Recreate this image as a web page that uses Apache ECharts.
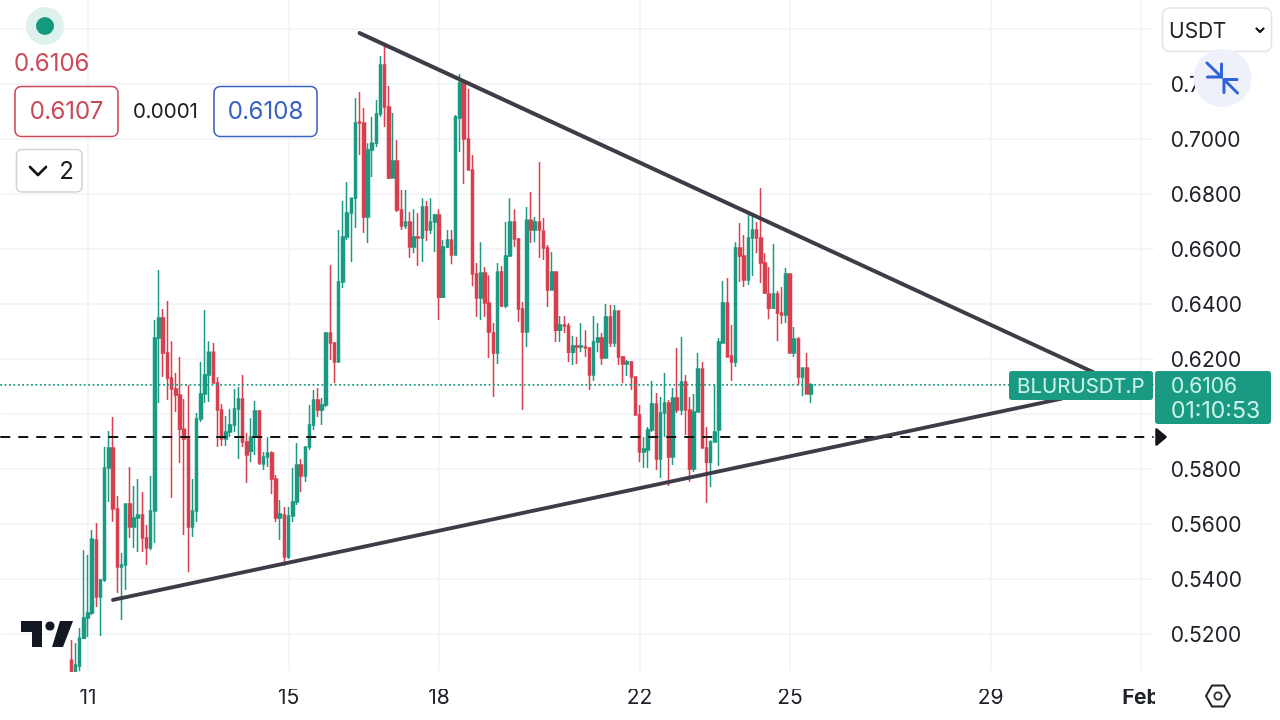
<!DOCTYPE html>
<html lang="en">
<head>
    <meta charset="UTF-8">
    <title>BLURUSDT.P</title>
    <style>
        html,body{margin:0;padding:0;background:#fff;}
        #box{width:1280px;height:720px;}
    </style>
</head>
<body>
<div id="box"></div>
<script src="https://cdn.jsdelivr.net/npm/echarts@6/dist/echarts.min.js"></script>
<script>
    // 2h candles. slots on the time axis, not all of them hold a candle
    var slotCount = 277;
    var firstCandleSlot = 17;
    var tickSlots = [21, 69, 105, 153, 189, 237, 273];
    var tickLabels = ['11', '15', '18', '22', '25', '29', 'Feb'];

    var lastPriceLine = [[0, 0.6106], [276, 0.6106]];
    var orderLine = [[0, 0.5916], [276, 0.5916]];
    var upperTrend = [[86, 0.7385], [263, 0.6142]];
    var lowerTrend = [[27, 0.5324], [254, 0.6056]];

    // open, close, low, high
    var candles = [
        [.5105,.5065,.5065,.5178],[.5065,.5087,.5065,.5167],[.5084,.5185,.5065,.5222],[.5185,.5258,.5185,.5505],
        [.5258,.5276,.5189,.5487],[.5276,.5545,.5269,.5578],[.5542,.5335,.5298,.5604],[.5335,.5396,.5193,.5400],
        [.5396,.5804,.5389,.5880],[.5804,.5876,.5680,.5938],[.5876,.5655,.5607,.5989],[.5655,.5444,.5349,.5702],
        [.5444,.5451,.5251,.5495],[.5451,.5673,.5360,.5673],[.5673,.5589,.5549,.5807],[.5589,.5622,.5513,.5738],
        [.5622,.5633,.5498,.5764],[.5633,.5549,.5498,.5716],[.5549,.5513,.5451,.5596],[.5513,.5647,.5505,.5775],
        [.5647,.6276,.5531,.6342],[.6276,.6349,.6040,.6524],[.6349,.6222,.6135,.6382],[.6222,.6131,.6051,.6411],
        [.6131,.6091,.5695,.6265],[.6091,.6069,.6007,.6149],[.6069,.5945,.5822,.6207],[.5945,.5909,.5560,.6055],
        [.5909,.5589,.5425,.6105],[.5589,.5647,.5553,.5764],[.5647,.5982,.5607,.6004],[.5982,.6073,.5971,.6189],
        [.6073,.6142,.6040,.6378],[.6142,.6225,.6044,.6265],[.6225,.6113,.6113,.6258],[.6113,.6015,.5880,.6135],
        [.6015,.5909,.5884,.6036],[.5909,.5935,.5884,.5993],[.5935,.5960,.5916,.6018],[.5960,.6018,.5935,.6091],
        [.6018,.6055,.5836,.6098],[.6055,.5898,.5880,.6142],[.5898,.5851,.5749,.5931],[.5865,.5916,.5825,.5985],
        [.5916,.6011,.5851,.6047],[.6011,.5822,.5815,.6015],[.5818,.5844,.5796,.5862],[.5844,.5858,.5807,.5916],
        [.5858,.5764,.5709,.5865],[.5764,.5622,.5607,.5778],[.5622,.5636,.5542,.5687],[.5633,.5480,.5447,.5662],
        [.5480,.5629,.5473,.5662],[.5629,.5680,.5607,.5804],[.5680,.5815,.5669,.5895],[.5815,.5775,.5716,.5836],
        [.5775,.5880,.5753,.5880],[.5880,.5960,.5869,.6033],[.5960,.6051,.5942,.6087],[.6051,.6015,.5989,.6095],
        [.6015,.6033,.5960,.6058],[.6033,.6295,.6025,.6298],[.6295,.6258,.6196,.6542],[.6258,.6189,.6113,.6262],
        [.6189,.6480,.6189,.6669],[.6480,.6644,.6458,.6775],[.6644,.6731,.6633,.6844],[.6731,.6785,.6553,.6785],
        [.6785,.7058,.6676,.7149],[.7062,.7058,.6942,.7171],[.7058,.6716,.6658,.7113],[.6716,.6960,.6622,.6985],
        [.6960,.6985,.6862,.7080],[.6985,.7091,.6971,.7142],[.7091,.7269,.7080,.7302],[.7269,.7116,.7044,.7349],
        [.7116,.6858,.6855,.7193],[.6858,.6920,.6858,.7095],[.6920,.6742,.6735,.6996],[.6742,.6684,.6669,.6815],
        [.6684,.6698,.6673,.6815],[.6698,.6607,.6567,.6735],[.6607,.6644,.6585,.6745],[.6644,.6640,.6538,.6731],
        [.6640,.6753,.6553,.6785],[.6753,.6669,.6629,.6775],[.6669,.6698,.6655,.6785],[.6698,.6724,.6589,.6727],
        [.6724,.6425,.6342,.6745],[.6425,.6607,.6425,.6633],[.6607,.6633,.6604,.6669],[.6633,.6578,.6545,.6669],
        [.6578,.7080,.6578,.7087],[.7076,.7204,.6953,.7236],[.7204,.7000,.6836,.7215],[.7000,.6887,.6887,.7182],
        [.6887,.6509,.6465,.6942],[.6509,.6422,.6353,.6549],[.6422,.6513,.6342,.6625],[.6513,.6404,.6353,.6535],
        [.6404,.6298,.6204,.6505],[.6295,.6222,.6062,.6331],[.6222,.6516,.6182,.6549],[.6516,.6393,.6389,.6538],
        [.6393,.6575,.6385,.6698],[.6575,.6698,.6571,.6785],[.6698,.6636,.6607,.6745],[.6636,.6382,.6335,.6640],
        [.6382,.6298,.6015,.6407],[.6298,.6705,.6244,.6753],[.6705,.6669,.6622,.6807],[.6669,.6698,.6625,.6716],
        [.6698,.6669,.6567,.6916],[.6665,.6604,.6560,.6713],[.6604,.6451,.6389,.6615],[.6451,.6516,.6451,.6589],
        [.6516,.6305,.6262,.6516],[.6305,.6324,.6262,.6356],[.6324,.6320,.6295,.6356],[.6320,.6225,.6189,.6331],
        [.6225,.6247,.6178,.6284],[.6247,.6244,.6182,.6280],[.6244,.6247,.6225,.6331],[.6244,.6240,.6207,.6305],
        [.6240,.6142,.6087,.6244],[.6142,.6262,.6120,.6356],[.6262,.6276,.6225,.6331],[.6276,.6204,.6178,.6295],
        [.6204,.6353,.6204,.6400],[.6353,.6258,.6244,.6396],[.6258,.6375,.6244,.6396],[.6375,.6207,.6178,.6375],
        [.6207,.6182,.6113,.6211],[.6182,.6189,.6138,.6196],[.6189,.6135,.6087,.6193],[.6135,.5996,.5996,.6135],
        [.5996,.5862,.5825,.6033],[.5862,.5873,.5804,.5916],[.5869,.5942,.5804,.5953],[.5942,.6036,.5935,.6120],
        [.6036,.5836,.5796,.6076],[.5836,.6004,.5767,.6062],[.6004,.6040,.5916,.6149],[.6040,.5844,.5738,.6051],
        [.5844,.6058,.5815,.6095],[.6058,.6015,.6004,.6240],[.6015,.6116,.5996,.6280],[.6116,.6015,.5924,.6142],
        [.6015,.5800,.5753,.6062],[.5800,.6007,.5789,.6073],[.6007,.6164,.6007,.6222],[.6164,.5876,.5876,.6189],
        [.5876,.5825,.5676,.5953],[.5825,.5898,.5735,.5905],[.5898,.5935,.5898,.6105],[.5942,.6262,.5811,.6276],
        [.6258,.6404,.6258,.6484],[.6404,.6207,.6207,.6495],[.6211,.6189,.6120,.6324],[.6189,.6604,.6171,.6625],
        [.6604,.6575,.6480,.6695],[.6575,.6487,.6462,.6651],[.6487,.6640,.6469,.6724],[.6640,.6669,.6502,.6724],
        [.6669,.6640,.6585,.6698],[.6640,.6549,.6476,.6822],[.6549,.6440,.6436,.6585],[.6436,.6385,.6345,.6535],
        [.6385,.6436,.6385,.6618],[.6436,.6367,.6265,.6447],[.6367,.6360,.6327,.6462],[.6360,.6509,.6331,.6531],
        [.6509,.6222,.6222,.6509],[.6222,.6273,.6207,.6316],[.6273,.6135,.6105,.6280],[.6135,.6167,.6065,.6167],
        [.6167,.6073,.6073,.6222],[.6073,.6106,.6040,.6113]
    ];

    var green = '#1a9a82';
    var red = '#d93f4e';
    var ink = '#20222b';
    var font = 'Inter';

    var categories = [];
    var candleData = [];
    for (var i = 0; i < slotCount; i++) {
        var t = tickSlots.indexOf(i);
        categories.push(t >= 0 ? tickLabels[t] : '');
        candleData.push(i >= firstCandleSlot && candles[i - firstCandleSlot] ? candles[i - firstCandleSlot] : '-');
    }
    var onTick = function (index, value) {
        return value !== '';
    };

    function label(text, x, y, size, color, weight, align) {
        return {
            type: 'text', x: x, y: y + 1.5, z: 120,
            style: {
                text: text, fontFamily: font, fontSize: size, fontWeight: weight || 400,
                fill: color, align: align || 'left', verticalAlign: 'middle'
            }
        };
    }
    function box(x, y, w, h, r, fill, stroke) {
        return {
            type: 'rect', z: 110,
            shape: {x: x, y: y, width: w, height: h, r: r},
            style: {fill: fill, stroke: stroke, lineWidth: stroke ? 1.6 : 0}
        };
    }
    function stroke(points, color, width) {
        return {
            type: 'polyline', z: 125,
            shape: {points: points},
            style: {fill: null, stroke: color, lineWidth: width, lineCap: 'round', lineJoin: 'round'}
        };
    }
    function fillShape(points, color) {
        return {type: 'polygon', z: 125, shape: {points: points}, style: {fill: color}};
    }
    function dot(x, y, r, color) {
        return {type: 'circle', z: 112, shape: {cx: x, cy: y, r: r}, style: {fill: color}};
    }

    var overlays = [
        // hides the bottom of the vertical grid lines, under the candles
        {type: 'rect', z: 1, shape: {x: 0, y: 671, width: 1155, height: 18}, style: {fill: '#fff'}},
        // Feb is cut off by the price scale
        box(1155, 684, 40, 28, 0, '#fff'),

        // top left
        dot(45, 26, 19, '#dff1ed'),
        dot(45, 26, 9, '#129a7c'),
        label('0.6106', 14, 62, 24, '#cb4b5a'),
        box(15, 86.5, 103, 50, 6, '#fff', '#cf4a58'),
        label('0.6107', 66.5, 110.5, 24, '#c94a59', 400, 'center'),
        label('0.0001', 133, 110.5, 20.5, '#1c1c22'),
        box(214, 86.5, 103, 50, 6, '#fff', '#3a62c2'),
        label('0.6108', 265.5, 110.5, 24, '#3a62c2', 400, 'center'),
        box(16.5, 149.5, 65.5, 42.5, 5, '#fff', '#d4d4d6'),
        stroke([[30, 167], [38, 175], [46, 167]], '#15151a', 2.6),
        label('2', 66.5, 170, 24, '#1c1c22', 400, 'center'),

        // top right
        box(1162.5, 8, 109, 43.5, 7, '#fff', '#e4e4e6'),
        label('USDT', 1169, 30, 21, '#22232b'),
        stroke([[1256.5, 28.5], [1260, 32], [1263.5, 28.5]], '#15151a', 2.2),
        dot(1222.5, 78, 29, '#eef1f9'),
        stroke([[1207, 63], [1221.5, 77]], '#2f63d7', 3),
        stroke([[1207.5, 77], [1221.5, 77], [1221.5, 64]], '#2f63d7', 3),
        stroke([[1237.5, 93], [1224, 79.5]], '#2f63d7', 3),
        stroke([[1237, 79.5], [1224, 79.5], [1224, 92.5]], '#2f63d7', 3),

        // last price tags
        box(1009, 371, 144, 29, 3, green),
        label('BLURUSDT.P', 1017, 385, 20.5, '#c9f3e8'),
        box(1155, 371, 116, 53, 3, green),
        label('0.6106', 1171, 385, 21, '#c9f3e8'),
        label('01:10:53', 1171, 409.5, 23, '#c9f3e8'),

        // order arrow
        {
            type: 'polygon', z: 125,
            shape: {points: [[1156.5, 429.5], [1165.5, 437], [1156.5, 444.5]]},
            style: {fill: '#15151a', stroke: '#15151a', lineWidth: 2.5, lineJoin: 'round'}
        },

        // logo
        fillShape([[21, 621], [42, 621], [42, 647], [32, 647], [32, 632], [21, 632]], '#131722'),
        {type: 'circle', z: 125, shape: {cx: 50, cy: 626, r: 4.6}, style: {fill: '#131722'}},
        fillShape([[60, 621], [73, 621], [63, 647], [52, 647]], '#131722'),

        // settings hexagon
        {
            type: 'polygon', z: 125,
            shape: {points: [[1206, 696], [1212, 685.5], [1224, 685.5], [1230, 696], [1224, 706.5], [1212, 706.5]]},
            style: {fill: null, stroke: '#22232b', lineWidth: 2, lineJoin: 'round'}
        },
        {type: 'circle', z: 125, shape: {cx: 1218, cy: 696, r: 3.6}, style: {fill: null, stroke: '#22232b', lineWidth: 1.8}}
    ];

    var mychart = echarts.init(document.getElementById('box'), null, {renderer: 'canvas'});
    mychart.setOption({
        animation: false,
        backgroundColor: '#fff',
        textStyle: {fontFamily: font},
        grid: {left: 0.24, top: -26, width: 1153.4, height: 715, outerBoundsMode: 'none'},
        xAxis: {
            type: 'category',
            data: categories,
            boundaryGap: false,
            axisLine: {show: false},
            axisTick: {show: false},
            axisLabel: {
                interval: onTick,
                margin: -2,
                color: ink,
                fontFamily: font,
                fontSize: 21,
                hideOverlap: false,
                formatter: function (v) {
                    return v === 'Feb' ? '{b|Feb}' : v;
                },
                rich: {b: {fontFamily: font, fontSize: 21, fontWeight: 700, color: ink}}
            },
            splitLine: {show: true, interval: onTick, lineStyle: {color: '#f1f2f3', width: 1.5}}
        },
        yAxis: {
            type: 'value',
            position: 'right',
            min: 0.50,
            max: 0.76,
            interval: 0.02,
            axisLine: {show: false},
            axisTick: {show: false},
            axisLabel: {
                margin: 17,
                showMinLabel: false,
                showMaxLabel: false,
                formatter: function (v) {
                    return '{p|' + v.toFixed(4) + '}';
                },
                rich: {p: {fontFamily: font, fontSize: 21, color: ink, padding: [4, 0, 0, 0]}}
            },
            splitLine: {show: true, showMinLine: false, lineStyle: {color: '#f1f2f3', width: 1.5}}
        },
        series: [
            {
                type: 'candlestick',
                data: candleData,
                barWidth: 3,
                itemStyle: {
                    color: green, color0: red,
                    borderColor: green, borderColor0: red,
                    borderWidth: 1.5
                }
            },
            {
                type: 'line', data: lastPriceLine, z: 4, symbol: 'none', silent: true,
                lineStyle: {color: green, type: [1.8, 2.6], width: 1.8}
            },
            {
                type: 'line', data: orderLine, z: 4, symbol: 'none', silent: true,
                lineStyle: {color: '#15151a', type: [10, 8], width: 2}
            },
            {
                type: 'line', data: upperTrend, z: 5, symbol: 'none', silent: true,
                lineStyle: {color: '#3d3c47', width: 4, cap: 'round'}
            },
            {
                type: 'line', data: lowerTrend, z: 5, symbol: 'none', silent: true,
                lineStyle: {color: '#3d3c47', width: 4, cap: 'round'}
            }
        ],
        graphic: {elements: overlays}
    });
    window.onresize = mychart.resize;
</script>
</body>
</html>
